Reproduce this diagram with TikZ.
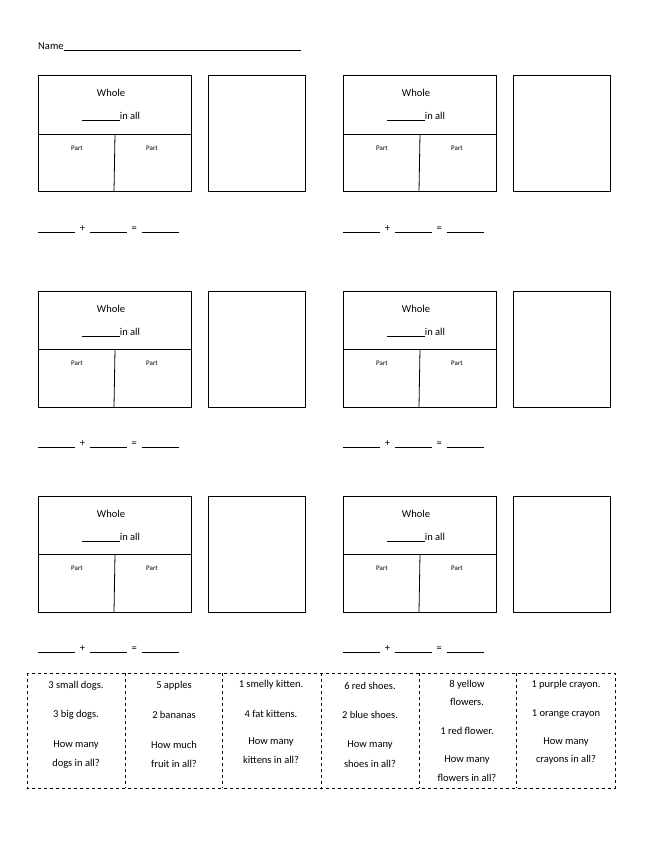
\documentclass[tikz,border=0pt]{standalone}
\usepackage{fontspec}
\setmainfont{Carlito}
\begin{document}
\begin{tikzpicture}[x=1pt,y=-1pt,
  box/.style={draw,line width=0.8pt},
  t/.style={font=\fontsize{10.5}{12}\selectfont,inner sep=0pt},
  sm/.style={font=\fontsize{7}{8}\selectfont,inner sep=0pt},
  cut/.style={draw,dashed,line width=0.6pt}]
\useasboundingbox (0,0) rectangle (650,841);
\node[t,anchor=west] (name) at (38,47) {Name\rule[-1pt]{237pt}{0.6pt}};
\foreach \gx/\gy/\dy/\ey [count=\i] in {0/75/134/229,305/75/134/229,0/291/349/444,305/291/349/444,0/496/554/649,305/496/554/649}{
  \draw[box] (38+\gx,\gy) rectangle (191+\gx,\gy+116);
  \draw[box] (38+\gx,\dy) -- (191+\gx,\dy);
  \draw[box] (115+\gx,\dy) -- (114+\gx,\gy+116);
  \draw[box] (208+\gx,\gy) rectangle (305+\gx,\gy+116);
  \node[t] (w\i) at (111+\gx,\gy+18) {Whole};
  \node[t] (a\i) at (111+\gx,\gy+41) {\rule[-1pt]{38pt}{0.6pt}in all};
  \node[sm] (p\i) at (77+\gx,\dy+14) {Part};
  \node[sm] (q\i) at (152+\gx,\dy+14) {Part};
  \node[t,anchor=west] (e\i) at (38+\gx,\ey) {\rule[-1pt]{37pt}{0.6pt}\ \ +\ \ \rule[-1pt]{37pt}{0.6pt}\ \ =\ \ \rule[-1pt]{37pt}{0.6pt}};
}
\draw[cut] (27,673) rectangle (615,788);
\foreach \x in {125,222,321,419,516} \draw[cut] (\x,673) -- (\x,788);
\foreach \x/\y/\s [count=\k] in {
 76/686/3 small dogs., 76/715/3 big dogs., 76/745/How many, 76/764/dogs in all?,
 174/686/5 apples, 174/715/2 bananas, 174/745/How much, 174/764/fruit in all?,
 271/685/1 smelly kitten., 271/714/4 fat kittens., 271/742/How many, 271/760/kittens in all?,
 370/686/6 red shoes., 370/715/2 blue shoes., 370/745/How many, 370/764/shoes in all?,
 467/685/8 yellow, 467/702/flowers., 467/731/1 red flower., 467/760/How many, 467/778/flowers in all?,
 566/685/1 purple crayon., 566/714/1 orange crayon, 566/742/How many, 566/760/crayons in all?}
  \node[t] (s\k) at (\x,\y) {\s};
\end{tikzpicture}
\end{document}
